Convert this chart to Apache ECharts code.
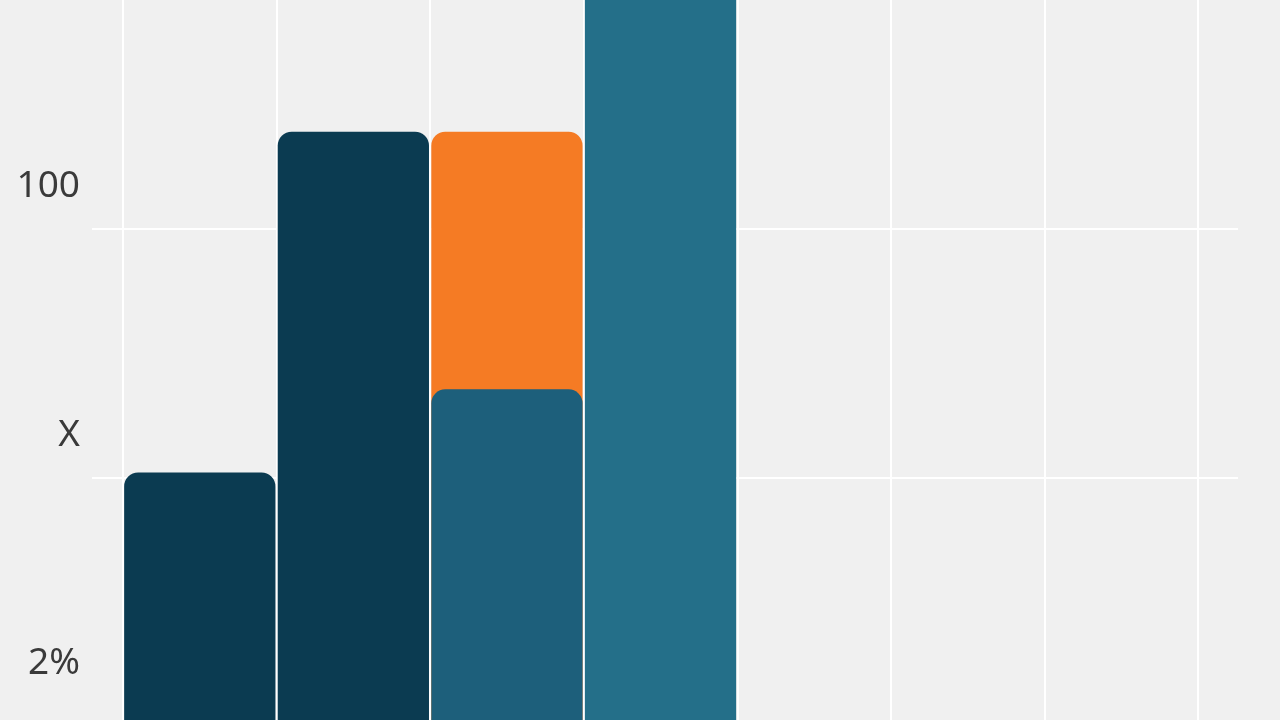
<!DOCTYPE html>
<html>
<head>
<meta charset="utf-8">
<script src="https://cdn.jsdelivr.net/npm/echarts@6/dist/echarts.min.js"></script>
<style>
  html, body { margin: 0; padding: 0; background: #f0f0f0; overflow: hidden; }
  /* a bit taller than the window: the zero line sits just below the bottom edge */
  #main { width: 1280px; height: 726px; }
</style>
</head>
<body>
<div id="main"></div>
<script>
var categories = ['A', 'B', 'C', 'D', 'E', 'F', 'G'];
// lower / front bars
var frontValues = [51, 119.5, 67.7, 160, null, null, null];
// orange bar that sits behind the third column
var backValues = [null, null, 119.5, null, null, null, null];
var tickValues = [0, 50, 100];
var tickLabels = ['2%', 'X', '100'];
var frontColors = ['#0b3b51', '#0b3b51', '#1d5f7b', '#246f89', '#246f89', '#246f89', '#246f89'];

var chart = echarts.init(document.getElementById('main'));

var labelFont = 'Noto Sans, sans-serif';

var option = {
    backgroundColor: '#f0f0f0',
    animation: false,
    grid: [
        // horizontal lines + labels
        {left: 92, right: 42, top: 0, bottom: 0},
        // bars + vertical lines
        {left: 123, right: 82, top: 0, bottom: 0}
    ],
    xAxis: [
        {gridIndex: 0, type: 'value', show: false},
        {
            gridIndex: 1,
            type: 'category',
            data: categories,
            axisLine: {show: false},
            axisTick: {show: false},
            axisLabel: {show: false},
            splitLine: {show: true, interval: 0, lineStyle: {color: '#ffffff', width: 2}}
        }
    ],
    yAxis: [
        {
            gridIndex: 0,
            type: 'value',
            min: 0,
            max: 146,
            interval: 50,
            axisLine: {show: false},
            axisTick: {show: false},
            splitLine: {
                show: true,
                showMinLine: false,
                showMaxLine: false,
                lineStyle: {color: '#ffffff', width: 2}
            },
            axisLabel: {
                showMaxLabel: false,
                margin: 12,
                formatter: function (v) {
                    var i = tickValues.indexOf(v);
                    if (i < 0) return '';
                    return i === 0 ? '{low|' + tickLabels[i] + '}' : '{hi|' + tickLabels[i] + '}';
                },
                rich: {
                    hi: {
                        fontFamily: labelFont,
                        fontSize: 37,
                        color: '#3a3a3a',
                        padding: [0, 0, 84, 0]
                    },
                    low: {
                        fontFamily: labelFont,
                        fontSize: 37,
                        color: '#3a3a3a',
                        padding: [0, 0, 126, 0]
                    }
                }
            }
        },
        {
            gridIndex: 1,
            type: 'value',
            min: 0,
            max: 146,
            interval: 50,
            show: false,
            splitLine: {show: false}
        }
    ],
    series: [
        {
            name: 'back',
            type: 'bar',
            xAxisIndex: 1,
            yAxisIndex: 1,
            clip: false,
            barCategoryGap: '1.5%',
            barGap: '-100%',
            itemStyle: {color: '#f57b24', borderRadius: [14, 14, 0, 0]},
            data: backValues
        },
        {
            name: 'front',
            type: 'bar',
            xAxisIndex: 1,
            yAxisIndex: 1,
            clip: false,
            barCategoryGap: '1.5%',
            barGap: '-100%',
            itemStyle: {
                color: function (p) { return frontColors[p.dataIndex]; },
                borderRadius: [14, 14, 0, 0]
            },
            data: frontValues
        }
    ]
};

chart.setOption(option);
</script>
</body>
</html>
